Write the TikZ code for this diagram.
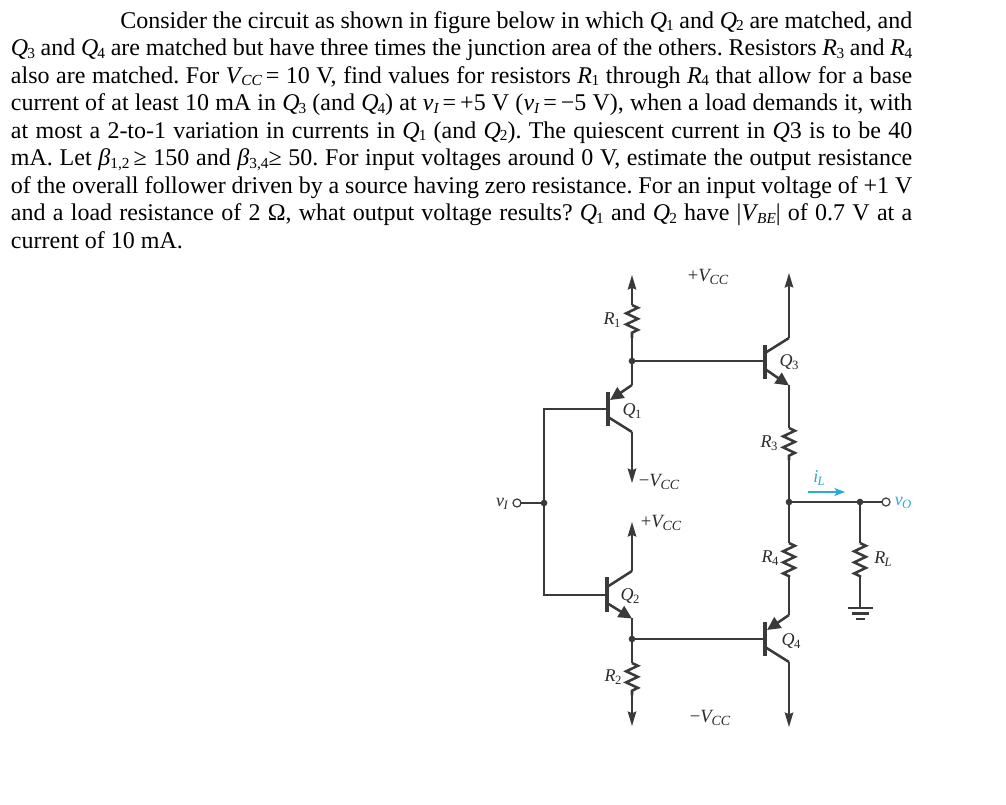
\documentclass[tikz,border=0pt]{standalone}
\usepackage{fontspec}
\setmainfont{Liberation Serif}
\usetikzlibrary{arrows.meta,decorations.pathmorphing}
\definecolor{ink}{HTML}{2B2B2B}
\definecolor{wire}{HTML}{3A3A3A}
\definecolor{cyanish}{HTML}{29A9E0}
\newcommand{\low}[1]{\raisebox{-0.22ex}{\fontsize{11.5}{13}\selectfont #1}}
\newcommand{\lowit}[1]{\raisebox{-0.22ex}{\fontsize{11.5}{13}\selectfont\itshape #1}}
\newcommand{\Qn}[1]{\textit{Q}\kern-0.8pt\low{#1}}
\newcommand{\Rn}[1]{\textit{R}\kern-0.3pt\low{#1}}
\newcommand{\lab}[2]{\textit{#1}\kern-0.5pt\raisebox{-0.35ex}{\fontsize{9.5}{10}\selectfont #2}}
\newcommand{\labit}[2]{\textit{#1}\kern-0.5pt\raisebox{-0.35ex}{\fontsize{9.5}{10}\selectfont\itshape #2}}
\newcommand{\Vcc}{\textit{V}\kern-1.5pt\raisebox{-0.35ex}{\fontsize{10.5}{11}\selectfont\itshape CC}}
\tikzset{
  x=0.75pt,y=-0.75pt,
  every node/.style={inner sep=0,outer sep=0,text=ink},
  wireline/.style={draw=wire,line width=1.1pt},
  bar/.style={draw=wire,line width=2.4pt},
  lead/.style={draw=wire,line width=1.9pt},
  res/.style={draw=wire,line width=1.9pt,line join=miter,decorate,decoration={zigzag,segment length=8.3pt,amplitude=4.4pt}},
  tipped/.style={draw=wire,line width=1.1pt,-{Stealth[length=11pt,width=6.5pt,inset=1.5pt]}},
  emarrow/.style={draw=wire,line width=1.9pt,-{Triangle[length=10pt,width=9.5pt]}},
  dotj/.style={circle,fill=wire,minimum size=5pt},
  term/.style={circle,draw=wire,fill=white,line width=0.9pt,minimum size=6pt},
  cl/.style={font=\fontsize{13.5}{15}\selectfont},
  gnd/.style={draw=wire,line width=2pt}
}
\begin{document}
\begin{tikzpicture}
\useasboundingbox (0,0) rectangle (1006,804);
\fill[white] (0,0) rectangle (1006,804);
\node[anchor=north west,text width=676pt,align=justify,font=\fontsize{18}{20.6}\selectfont\frenchspacing,text=black] (problem) at (11,11.5) {%
\hspace*{82pt}Consider the circuit as shown in figure below in which \Qn{1} and \Qn{2} are matched, and\linebreak
\Qn{3} and \Qn{4} are matched but have three times the junction area of the others. Resistors \Rn{3} and \Rn{4}\linebreak
also are matched. For \textit{V}\kern-1pt\lowit{CC}\,= 10 V, find values for resistors \Rn{1} through \Rn{4} that allow for a base\linebreak
current of at least 10 mA in \Qn{3} (and \Qn{4}) at \textit{v}\lowit{I}\,=\,+5 V (\textit{v}\lowit{I}\,=\,−5 V), when a load demands it, with\linebreak
at most a 2-to-1 variation in currents in \Qn{1} (and \Qn{2}). The quiescent current in \textit{Q}3 is to be 40\linebreak
mA. Let \textit{β}\low{1,2}\,≥ 150 and \textit{β}\low{3,4}≥ 50. For input voltages around 0 V, estimate the output resistance\linebreak
of the overall follower driven by a source having zero resistance. For an input voltage of +1 V\linebreak
and a load resistance of 2 Ω, what output voltage results? \Qn{1} and \Qn{2} have |\textit{V}\kern-1pt\lowit{BE}| of 0.7 V at a\linebreak
current of 10 mA.};

% Named coordinates
\coordinate (tl) at (632,275);
\coordinate (r1t) at (632,305); \coordinate (r1b) at (632,338);
\node[dotj] (j1) at (632,361) {};
\coordinate (q1e) at (632,385); \coordinate (q1c) at (632,432);
\coordinate (q1bt) at (608,392); \coordinate (q1bb) at (608,426);
\coordinate (q1b) at (608,409); \coordinate (q1es) at (608,401); \coordinate (q1cs) at (608,417);
\coordinate (q1tip) at (610,400);
\coordinate (bl1) at (632,483);
\coordinate (wl) at (544,409); \coordinate (wl2) at (544,595);
\node[term] (vi) at (517,503) {};
\node[dotj] (j2) at (544,503) {};
\coordinate (q2c) at (632,571); \coordinate (q2e) at (632,618);
\coordinate (q2bt) at (607,577); \coordinate (q2bb) at (607,612);
\coordinate (q2b) at (607,595); \coordinate (q2cs) at (607,587); \coordinate (q2es) at (607,603);
\coordinate (q2tip) at (632,618.5);
\coordinate (tl2) at (632,522);
\node[dotj] (j3) at (632,639) {};
\coordinate (r2t) at (632,663); \coordinate (r2b) at (632,695);
\coordinate (bl2) at (632,726);
\coordinate (tr) at (789,273);
\coordinate (q3c) at (789,338); \coordinate (q3e) at (789,385);
\coordinate (q3bt) at (765,345); \coordinate (q3bb) at (765,379);
\coordinate (q3b) at (765,361); \coordinate (q3cs) at (765,353); \coordinate (q3es) at (765,369);
\coordinate (q3tip) at (789,385.5);
\coordinate (r3t) at (789,428); \coordinate (r3b) at (789,460);
\node[dotj] (j4) at (789,502) {};
\coordinate (r4t) at (789,543); \coordinate (r4b) at (789,577);
\coordinate (q4e) at (789,615); \coordinate (q4c) at (789,662);
\coordinate (q4bt) at (765,622); \coordinate (q4bb) at (765,656);
\coordinate (q4b) at (765,639); \coordinate (q4es) at (765,631); \coordinate (q4cs) at (765,647);
\coordinate (q4tip) at (767,630);
\coordinate (br) at (789,727);
\node[dotj] (j5) at (860,502) {};
\node[term] (vo) at (886,502) {};
\coordinate (rlt) at (860,543); \coordinate (rlb) at (860,577);
\coordinate (g0) at (860,608);
\coordinate (g1l) at (848,608); \coordinate (g1r) at (873,608);
\coordinate (g2l) at (852,613.5); \coordinate (g2r) at (869,613.5);
\coordinate (g3l) at (856,619); \coordinate (g3r) at (865,619);
\coordinate (ia) at (808,492); \coordinate (ib) at (845,492);

% Wires
\draw[tipped] (r1t) -- (tl);
\draw[res] (r1t) -- (r1b);
\draw[wireline] (r1b) -- (j1) -- (q1e);
\draw[wireline] (j1) -- (q3b);
\draw[tipped] (q1c) -- (bl1);
\draw[wireline] (q1b) -- (wl) -- (j2) -- (wl2) -- (q2b);
\draw[wireline] (vi) -- (j2);
\draw[tipped] (q2c) -- (tl2);
\draw[wireline] (q2e) -- (j3) -- (r2t);
\draw[res] (r2t) -- (r2b);
\draw[tipped] (r2b) -- (bl2);
\draw[wireline] (j3) -- (q4b);
\draw[tipped] (q3c) -- (tr);
\draw[wireline] (q3e) -- (r3t);
\draw[res] (r3t) -- (r3b);
\draw[wireline] (r3b) -- (j4) -- (r4t);
\draw[res] (r4t) -- (r4b);
\draw[wireline] (r4b) -- (q4e);
\draw[tipped] (q4c) -- (br);
\draw[wireline] (j4) -- (j5) -- (vo);
\draw[wireline] (j5) -- (rlt);
\draw[res] (rlt) -- (rlb);
\draw[wireline] (rlb) -- (g0);
\draw[gnd] (g1l) -- (g1r);
\draw[gnd] (g2l) -- (g2r);
\draw[gnd] (g3l) -- (g3r);

% Transistors
\draw[bar] (q1bt) -- (q1bb);
\draw[emarrow] (q1e) -- (q1tip);
\draw[lead] (q1cs) -- (q1c);
\draw[bar] (q2bt) -- (q2bb);
\draw[lead] (q2cs) -- (q2c);
\draw[emarrow] (q2es) -- (q2tip);
\draw[bar] (q3bt) -- (q3bb);
\draw[lead] (q3cs) -- (q3c);
\draw[emarrow] (q3es) -- (q3tip);
\draw[bar] (q4bt) -- (q4bb);
\draw[emarrow] (q4e) -- (q4tip);
\draw[lead] (q4cs) -- (q4c);

% Load current arrow
\draw[draw=cyanish,line width=1pt,-{Stealth[length=8pt,width=6pt,inset=2pt]}] (ia) -- (ib);

% Labels
\node[cl] (lr1) at (612,320) {\lab{R}{1}};
\node[cl] (lr2) at (613,677) {\lab{R}{2}};
\node[cl] (lr3) at (769,443) {\lab{R}{3}};
\node[cl] (lr4) at (770,558) {\lab{R}{4}};
\node[cl] (lrl) at (883,559) {\labit{R}{L}};
\node[cl] (lq1) at (632,411) {\lab{Q}{1}};
\node[cl] (lq2) at (630,596) {\lab{Q}{2}};
\node[cl] (lq3) at (789,362) {\lab{Q}{3}};
\node[cl] (lq4) at (791,641) {\lab{Q}{4}};
\node[cl,font=\fontsize{14}{16}\selectfont] (vcc1) at (708,277) {+\Vcc};
\node[cl,font=\fontsize{14}{16}\selectfont] (vcc2) at (659,482) {−\Vcc};
\node[cl,font=\fontsize{14}{16}\selectfont] (vcc3) at (661,523) {+\Vcc};
\node[cl,font=\fontsize{14}{16}\selectfont] (vcc4) at (710,718) {−\Vcc};
\node[cl] (lvi) at (502,504) {\labit{v}{I}};
\node[cl,text=cyanish] (lvo) at (903,503) {\labit{v}{O}};
\node[cl,text=cyanish] (lil) at (819,478) {\labit{i}{L}};
\end{tikzpicture}
\end{document}
